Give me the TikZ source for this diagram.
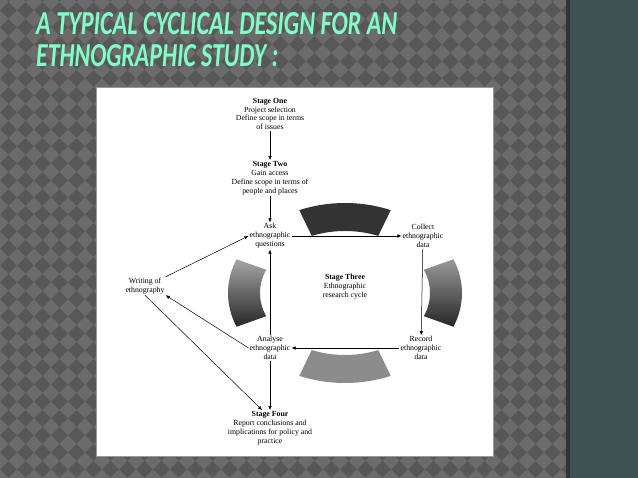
\documentclass[tikz,border=0pt]{standalone}
\usepackage{fontspec}
\setmainfont{Liberation Serif}
\newfontfamily\titlefont{Carlito}
\usetikzlibrary{arrows.meta}
\begin{document}
\begin{tikzpicture}[x=1pt,y=1pt,
  lbl/.style={align=center,font=\fontsize{7.8}{8.9}\selectfont,inner sep=1pt},
  ttl/.style={anchor=base west,inner sep=0,text=green!45!cyan!50!white},
  arr/.style={-{Latex[length=4pt,width=3.5pt]},line width=0.5pt}]
\useasboundingbox (0,0) rectangle (638,478);
\fill[black!66] (0,0) rectangle (568,478);
\begin{scope}
\clip (0,0) rectangle (568,478);
\foreach \i in {0,...,34}{\foreach \j in {0,...,29}{
  \fill[black!58] ({\i*17},{\j*17+8.5}) -- ++(8.5,-8.5) -- ++(-8.5,-8.5) -- ++(-8.5,8.5) -- cycle;}}
\end{scope}
\fill[black!80] (566,0) rectangle (570,478);
\fill[black!10!teal!20!black!75] (570,0) rectangle (638,478);
% title
\node[ttl] (t1) at (36,443)
  {\resizebox{361pt}{22pt}{\titlefont\bfseries\itshape A TYPICAL CYCLICAL DESIGN FOR AN}};
\node[ttl] (t2) at (36,411)
  {\resizebox{242pt}{22pt}{\titlefont\bfseries\itshape ETHNOGRAPHIC STUDY :}};
% panel
\fill[white,draw=black!40,line width=1pt] (96,21) rectangle (493,390);
% ring segments
\begin{scope}[shift={(345,185)}]
\def\seg#1#2{({117*cos(#1)},{90*sin(#1)}) arc[start angle=#1,end angle=#2,x radius=117,y radius=90]
  -- ({85*cos(#2)},{62*sin(#2)}) arc[start angle=#2,end angle=#1,x radius=85,y radius=62] -- cycle}
\fill[black!80] \seg{67}{113};
\shade[top color=black!35,bottom color=black!85] \seg{158}{202};
\shade[top color=black!40,bottom color=black!85] \seg{-22}{22};
\fill[black!45] \seg{247}{293};
\end{scope}
% nodes
\node[lbl] (s1) at (270,364) {\textbf{Stage One}\\Project selection\\Define scope in terms\\of issues};
\node[lbl] (s2) at (270,300) {\textbf{Stage Two}\\Gain access\\Define scope in terms of\\people and places};
\node[lbl] (ask) at (270,242) {Ask\\ethnographic\\questions};
\node[lbl] (col) at (423,242) {Collect\\ethnographic\\data};
\node[lbl] (wri) at (145,192) {Writing of\\ethnography};
\node[lbl] (s3) at (345,191) {\textbf{Stage Three}\\Ethnographic\\research cycle};
\node[lbl] (ana) at (270,130) {Analyse\\ethnographic\\data};
\node[lbl] (rec) at (421,130) {Record\\ethnographic\\data};
\node[lbl] (s4) at (270,50) {\textbf{Stage Four}\\Report conclusions and\\implications for policy and\\practice};
% arrows
\draw[arr] (s1) -- (s2);
\draw[arr] (s2) -- (ask);
\draw[arr] (ask) -- (col);
\draw[arr] (col) -- (rec);
\draw[arr] (rec) -- (ana);
\draw[arr] (ana) -- (ask);
\draw[arr] (ana) -- (s4);
\draw[arr] (wri.north east) -- (ask.west);
\draw[arr] (ana.west) -- (wri.south east);
\draw[arr] (wri.south) -- ([xshift=-8pt]s4.north);
\end{tikzpicture}
\end{document}
